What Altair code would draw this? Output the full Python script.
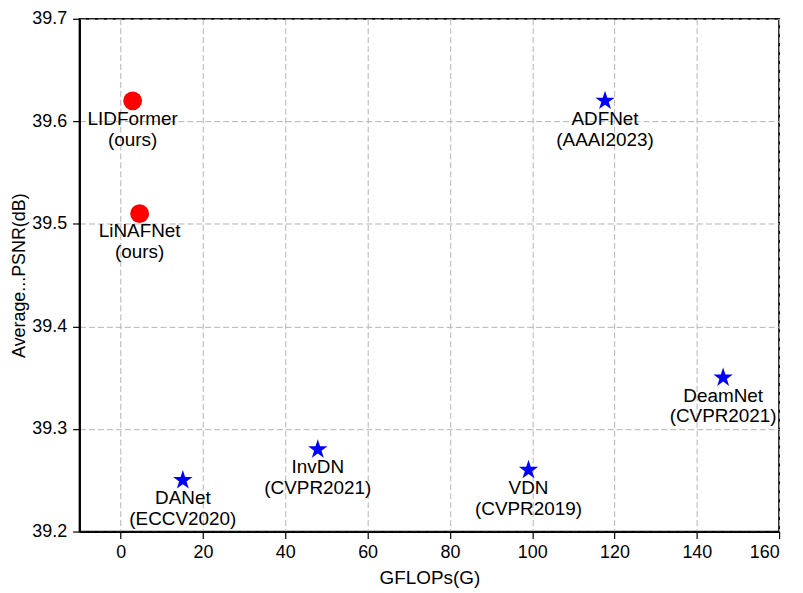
import altair as alt
import pandas as pd

names = ["LIDFormer\n(ours)", "LiNAFNet\n(ours)", "ADFNet\n(AAAI2023)", "DeamNet\n(CVPR2021)",
         "InvDN\n(CVPR2021)", "VDN\n(CVPR2019)", "DANet\n(ECCV2020)"]
gflops = [2.9, 4.6, 117.7, 146.4, 47.9, 99.1, 15.1]
psnr = [39.62, 39.51, 39.62, 39.35, 39.28, 39.26, 39.25]
group = ["ours", "ours", "other", "other", "other", "other", "other"]
x_ticks = [0, 20, 40, 60, 80, 100, 120, 140, 160]
y_ticks = [39.2, 39.3, 39.4, 39.5, 39.6, 39.7]

df = pd.DataFrame({"name": names, "gflops": gflops, "psnr": psnr, "group": group})

FONT = "Liberation Sans"
STAR = ("M0,-1L0.2245,-0.309L0.9511,-0.309L0.3633,0.118L0.5878,0.809L0,0.382"
        "L-0.5878,0.809L-0.3633,0.118L-0.9511,-0.309L-0.2245,-0.309Z")

xs = alt.Scale(domain=[-10, 160], nice=False, zero=False)
ys = alt.Scale(domain=[39.2, 39.7], nice=False, zero=False)

xax = alt.Axis(values=x_ticks, title="GFLOPs(G)", orient="bottom", labelPadding=5, titlePadding=7,
               titleFontSize=19)
yax = alt.Axis(values=y_ticks, format=".1f", title="Average...PSNR(dB)", orient="left",
               labelPadding=6, titlePadding=3, titleFontSize=18)

base = alt.Chart(df)

points = base.mark_point(filled=True, opacity=1).encode(
    x=alt.X("gflops:Q", scale=xs, axis=xax),
    y=alt.Y("psnr:Q", scale=ys, axis=yax),
    shape=alt.Shape("group:N", scale=alt.Scale(domain=["ours", "other"], range=["circle", STAR]), legend=None),
    color=alt.Color("group:N", scale=alt.Scale(domain=["ours", "other"], range=["#ff0000", "#0000ff"]), legend=None),
    size=alt.Size("group:N", scale=alt.Scale(domain=["ours", "other"], range=[360, 420]), legend=None),
)

labels = base.mark_text(
    font=FONT, fontSize=19, color="black", baseline="top", align="center",
    dy=9, lineBreak="\n", lineHeight=21
).encode(x=alt.X("gflops:Q"), y=alt.Y("psnr:Q"), text="name:N")

chart = alt.layer(points, labels).properties(
    width=704, height=516, background="white",
    autosize=alt.AutoSizeParams(type="none"),
    padding={"left": 72, "top": 9, "right": 16, "bottom": 60},
).configure_view(stroke="black", strokeWidth=1.8).configure_axis(
    grid=True, gridDash=[6, 3], gridColor="#b3b3b3", gridWidth=1, domainColor="black", domainWidth=1.8,
    tickColor="black", tickSize=7, tickWidth=1.2, labelFont=FONT, labelFontSize=18, labelColor="black",
    titleFont=FONT, titleFontWeight="normal", titleColor="black"
)

chart.save("out.html", embed_options={"renderer": "svg", "actions": False})
